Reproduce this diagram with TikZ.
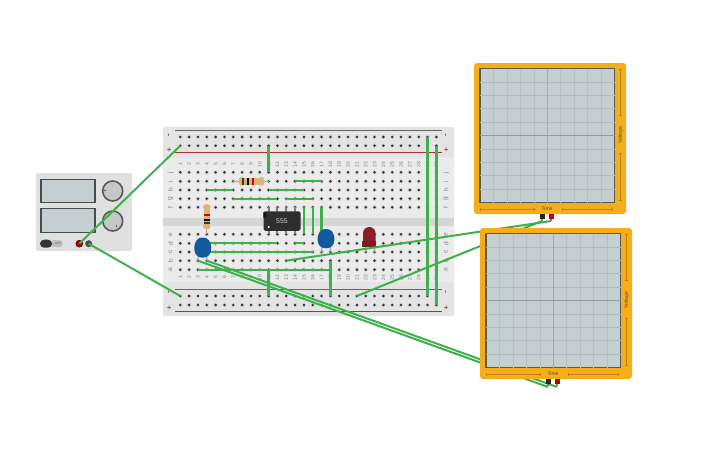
\documentclass[tikz,border=0pt]{standalone}
\usepackage{fontspec}
\setmainfont{Liberation Sans}
\usetikzlibrary{arrows.meta}
\definecolor{wiregreen}{HTML}{3FB14A}
\definecolor{boardgray}{HTML}{E4E4E4}
\definecolor{bandgray}{HTML}{D6D6D6}
\definecolor{railred}{HTML}{A5322E}
\definecolor{screenblue}{HTML}{C5CFD2}
\definecolor{scopeorange}{HTML}{F5AE19}
\definecolor{axisbrown}{HTML}{B98618}
\definecolor{restan}{HTML}{DBB477}
\definecolor{capblue}{HTML}{14589E}
\definecolor{ledred}{HTML}{8A1F26}
\tikzset{
  wire/.style={draw=wiregreen, line width=2.3pt},
  longwire/.style={draw=wiregreen, line width=2pt},
  lead/.style={draw=gray!70, line width=1.3pt},
  scopeframe/.style={fill=scopeorange, rounded corners=3pt, minimum width=152pt, minimum height=151pt, inner sep=0pt},
  psuscreen/.style={draw=black!70, line width=1.5pt, fill=screenblue, minimum width=54pt, inner sep=0pt},
  knob/.style={circle, draw=black!65, line width=1.6pt, fill=black!22, minimum size=20pt, inner sep=0pt},
  terminal/.style={circle, minimum size=7pt, inner sep=0pt},
  boardtext/.style={text=black!50, font=\fontsize{5}{5}\selectfont, inner sep=0pt, rotate=90},
  axistext/.style={text=black!70, font=\fontsize{5}{6}\selectfont, inner sep=0pt},
  axisline/.style={draw=axisbrown, line width=0.6pt, {|[width=3pt,length=0.6pt]}-{|[width=3pt,length=0.6pt]}},
}
\begin{document}
\begin{tikzpicture}[x=1pt, y=-1pt]
\useasboundingbox[fill=white] (0,0) rectangle (725,453);
% power supply
\path (84,212) node[fill=black!12, rounded corners=2pt, minimum width=96pt, minimum height=78pt, inner sep=0pt] (psu) {};
\path (68,191) node[psuscreen, minimum height=23pt] (psuscreenA) {};
\path (68,220.5) node[psuscreen, minimum height=24pt] (psuscreenB) {};
\path (112.7,191) node[knob] (knobA) {};
\path (112.7,221) node[knob] (knobB) {};
\fill[black!70] (105,190.5) circle (0.8);
\fill[black!70] (116.5,226) circle (0.8);
\path (56.5,243.7) node[fill=black!25, rounded corners=3pt, minimum width=12pt, minimum height=7pt, inner sep=0pt, font=\fontsize{3}{3}\selectfont, text=black!60] (psuoff) {\hspace{3pt}OFF};
\path (46,243.7) node[fill=black!80, rounded corners=4pt, minimum width=12pt, minimum height=8pt, inner sep=0pt] (psuswitch) {};
\path (79.3,243.7) node[terminal, fill=red!65!black, draw=red!35!black, line width=0.5pt] (psured) {};
\path (88.7,243.7) node[terminal, fill=black!70] (psublack) {};
% breadboard
\path (308.5,221.5) node[fill=boardgray, rounded corners=2pt, minimum width=291pt, minimum height=189pt, inner sep=0pt] (board) {};
\fill[black!8] (163,158) rectangle (454,218);
\fill[black!8] (163,226) rectangle (454,282);
\fill[bandgray] (163,218) rectangle (454,226);
\draw[black!60, line width=1pt] (175,130.7) -- (441.7,130.7);
\draw[railred, line width=1pt] (175,152.3) -- (441.7,152.3);
\draw[black!60, line width=1pt] (175,289.5) -- (441.7,289.5);
\draw[railred, line width=1pt] (175,311) -- (441.7,311);
\foreach \rowname/\rowy in {tm/137, tp/145.7, j/172.3, i/181.3, h/190, g/198.7, f/207.3, e/234.3, d/243.3, c/252, b/260.7, a/269.7, bm/296, bp/305} {
  \foreach \col in {1,...,30} {
    \pgfmathsetmacro\colx{180.3+8.83*(\col-1)}
    \coordinate (\rowname\col) at (\colx,\rowy);
    \fill[black!15] (\rowname\col) circle (2.3);
    \fill[black!80] (\rowname\col) circle (1.4);
  }
}
\foreach \col in {1,...,30} {
  \pgfmathsetmacro\colx{180.3+8.83*(\col-1)}
  \path (\colx,164.3) node[boardtext] (numtop\col) {\col};
  \path (\colx,277.3) node[boardtext] (numbot\col) {\col};
}
\foreach \rowname/\rowy in {j/172.3, i/181.3, h/190, g/198.7, f/207.3, e/234.3, d/243.3, c/252, b/260.7, a/269.7} {
  \path (170.5,\rowy) node[boardtext, font=\fontsize{6.5}{6.5}\selectfont] (left\rowname) {\rowname};
  \path (446,\rowy) node[boardtext, font=\fontsize{6.5}{6.5}\selectfont] (right\rowname) {\rowname};
}
\foreach \sidename/\sidex in {left/169.3, right/446.3} {
  \path (\sidex,134.7) node[text=black!65, font=\bfseries\fontsize{8}{8}\selectfont, inner sep=0pt, rotate=90] (\sidename minustop) {-};
  \path (\sidex,149.7) node[text=red!70!black, font=\fontsize{8}{8}\selectfont, inner sep=0pt] (\sidename plustop) {+};
  \path (\sidex,292.5) node[text=black!65, font=\bfseries\fontsize{8}{8}\selectfont, inner sep=0pt, rotate=90] (\sidename minusbot) {-};
  \path (\sidex,308) node[text=red!70!black, font=\fontsize{8}{8}\selectfont, inner sep=0pt] (\sidename plusbot) {+};
}
% short wires
\draw[wire] (tp11) -- (j11);
\draw[wire] (i14) -- (i17);
\draw[wire] (h4) -- (h7);
\draw[wire] (h11) -- (h15);
\draw[wire] (g7) -- (g12);
\draw[wire] (g13) -- (g16);
\draw[wire] (f15) -- (e15);
\draw[wire] (f16) -- (e16);
\draw[wire] (f17) -- (e17);
\draw[wire] (d4) -- (d12);
\draw[wire] (d14) -- (d15);
\draw[wire] (c4) -- (c16);
\draw[wire] (a3) -- (a18);
\draw[wire] (a11) -- (bm11);
\draw[wire] (b18) -- (bm18);
\draw[wire] (tm29) -- (bm29);
\draw[wire] (tp30) -- (bp30);
% 555 timer
\foreach \col in {11,...,14} {
  \draw[black!50, line width=2pt] (f\col) -- (e\col);
}
\path (282,221) node[fill=black!82, rounded corners=2pt, minimum width=37pt, minimum height=19.5pt, inner sep=0pt, text=black!20, font=\fontsize{7}{7}\selectfont] (timer) {555};
\fill[black!92] (timer.west) ++(0,-3) arc (90:-90:3) -- cycle;
\fill[white] (268.7,227) circle (1.2);
% resistors
\draw[lead] (i7) -- (i11);
\path (251.5,181.3) node[fill=restan, minimum width=20pt, minimum height=6.5pt, inner sep=0pt] (resA) {};
\fill[restan] (241.5,181.3) ellipse (3 and 4.5);
\fill[restan] (261.5,181.3) ellipse (3 and 4.5);
\fill[black!60!brown] (241.7,177.5) rectangle (243.7,185.1);
\fill[black] (247.3,178) rectangle (249.3,184.6);
\fill[red!85!black] (251.7,178) rectangle (253.7,184.6);
\draw[lead] (f4) -- (e4);
\path (206.8,216.5) node[fill=restan, minimum width=6.5pt, minimum height=20pt, inner sep=0pt] (resB) {};
\fill[restan] (206.8,207) ellipse (3.8 and 3);
\fill[restan] (206.8,226.5) ellipse (3.8 and 3);
\fill[red!85!black] (203.5,214) rectangle (210.1,216);
\fill[black] (203.5,218.5) rectangle (210.1,220.5);
\fill[black!60!brown] (203.5,222.3) rectangle (210.1,224.3);
% capacitors
\draw[lead] (198,256) -- (b3);
\draw[lead] (206.8,256) -- (b4);
\fill[capblue] (194.3,249) .. controls (194.3,241) and (197.5,237.5) .. (202.7,237.5) .. controls (208,237.5) and (211.2,241) .. (211.2,249) .. controls (211.2,254) and (208,257.7) .. (202.7,257.7) .. controls (197.5,257.7) and (194.3,254) .. cycle;
\draw[lead] (321.7,247) -- (c17);
\draw[lead] (330.5,247) -- (c18);
\fill[capblue] (317.6,240) .. controls (317.6,232) and (321,229) .. (326,229) .. controls (331,229) and (334.4,232) .. (334.4,240) .. controls (334.4,245) and (331,248.3) .. (326,248.3) .. controls (321,248.3) and (317.6,245) .. cycle;
% led
\draw[lead] (c22) -- (365.7,244);
\draw[lead] (c23) -- (374.5,244);
\fill[ledred] (363,246) -- (363,233.3) arc (180:360:6.3) -- (375.6,246) -- cycle;
\fill[ledred!90!black] (362.3,241) rectangle (376.3,246.5);
% long wires
\coordinate (probeAblack) at (542,221);
\coordinate (probeAred) at (551,221);
\coordinate (probeBblack) at (548,387);
\coordinate (probeBred) at (557,387);
\draw[longwire] (psured.center) -- (tp1);
\draw[longwire] (psublack.center) -- (bm1);
\draw[longwire] (b13) -- (probeAred);
\draw[longwire] (bm21) -- (probeAblack);
\draw[longwire] (b3) -- (probeBblack);
\draw[longwire] (b4) -- (probeBred);
% oscilloscopes
\foreach \sname/\sx/\sy in {scopeA/474/63, scopeB/480/228} {
  \path (\sx+76,\sy+75.5) node[scopeframe] (\sname) {};
  \path (\sx+73.2,\sy+72.5) node[draw=black!65, line width=1.5pt, fill=screenblue, minimum width=134.5pt, minimum height=134pt, inner sep=0pt] (\sname screen) {};
  \foreach \k in {1,...,9} {
    \draw[black!7!screenblue, line width=0.6pt] (\sx+6+13.45*\k,\sy+5.5) -- (\sx+6+13.45*\k,\sy+139.5);
    \draw[black!10!screenblue, line width=0.6pt] (\sx+6,\sy+5.5+13.4*\k) -- (\sx+140.5,\sy+5.5+13.4*\k);
  }
  \draw[black!18!screenblue, line width=0.7pt] (\sx+73.25,\sy+5.5) -- (\sx+73.25,\sy+139.5);
  \draw[black!25!screenblue, line width=0.7pt] (\sx+6,\sy+72.5) -- (\sx+140.5,\sy+72.5);
  \path (\sx+73,\sy+146) node[axistext] (\sname time) {Time};
  \path (\sx+146.5,\sy+72) node[axistext, rotate=90] (\sname volt) {Voltage};
  \draw[axisline] (\sx+6,\sy+146) -- (\sx+61,\sy+146);
  \draw[axisline] (\sx+87.5,\sy+146) -- (\sx+138.5,\sy+146);
  \draw[axisline] (\sx+146.5,\sy+6) -- (\sx+146.5,\sy+53);
  \draw[axisline] (\sx+146.5,\sy+90) -- (\sx+146.5,\sy+138);
  \draw[black!50, line width=1.2pt] (\sx+68,\sy+155) -- (\sx+68,\sy+158);
  \draw[black!50, line width=1.2pt] (\sx+77,\sy+155) -- (\sx+77,\sy+158);
  \fill[black!85] (\sx+66,\sy+151) rectangle (\sx+70.5,\sy+155.5);
  \fill[red!75!black] (\sx+75,\sy+151) rectangle (\sx+79.5,\sy+155.5);
}
\end{tikzpicture}
\end{document}
